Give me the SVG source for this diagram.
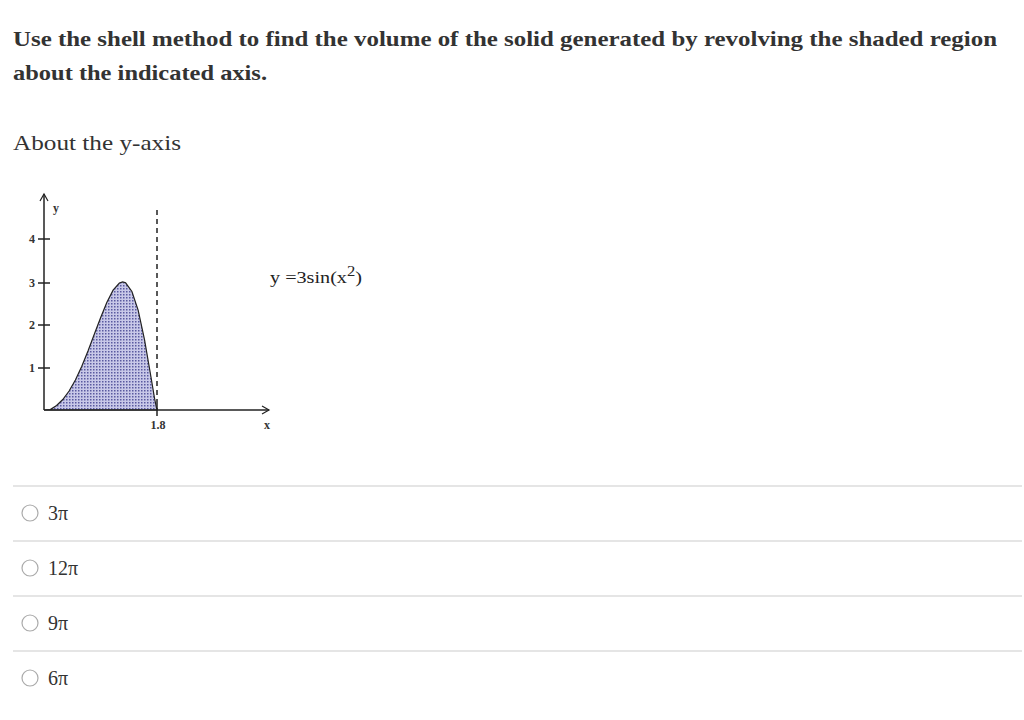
<svg xmlns="http://www.w3.org/2000/svg" width="1024" height="720" viewBox="0 0 1024 720">
<style>
.title{font-family:"Liberation Serif",serif;font-weight:bold;font-size:22px;fill:#333}
.sub{font-family:"Liberation Serif",serif;font-size:21px;fill:#333}
.opt{font-family:"Liberation Serif",serif;font-size:20px;fill:#333}
.tick{font-family:"Liberation Serif",serif;font-weight:bold;font-size:12px;fill:#333}
.eq{font-family:"Liberation Serif",serif;font-size:17px;fill:#222}
.sep{stroke:#dcdcdc;stroke-width:1.5}
.radio{fill:#fff;stroke:#aaa;stroke-width:1.2}
.ax{stroke:#222;stroke-width:1.5;fill:none}
</style>
<defs>
<pattern id="dots" width="3" height="3" patternUnits="userSpaceOnUse">
<rect width="3" height="3" fill="#c8c8e8"/>
<rect width="1.5" height="1.5" fill="#5a5aa0"/>
</pattern>
<marker id="arr" markerWidth="10" markerHeight="10" refX="8" refY="5" orient="auto" markerUnits="userSpaceOnUse">
<path d="M1,1 L8,5 L1,9" fill="none" stroke="#222" stroke-width="1.2"/>
</marker>
</defs>
<rect width="1024" height="720" fill="#fff"/>
<text class="title" x="13" y="46" textLength="984" lengthAdjust="spacingAndGlyphs">Use the shell method to find the volume of the solid generated by revolving the shaded region</text>
<text class="title" x="13" y="80" textLength="254" lengthAdjust="spacingAndGlyphs">about the indicated axis.</text>
<text class="sub" x="13" y="150" textLength="168" lengthAdjust="spacingAndGlyphs">About the y-axis</text>

<g id="graph">
<path d="M44,410 L50.3,409.6 L56.6,405.5 L62.8,399.5 L69.1,391 L75.4,380 L81.7,366.5 L88,351 L94.2,334.5 L100.5,318 L106.8,302.5 L113.1,290.2 L119.4,283 L122.7,281.9 L125.6,282.8 L131.9,291.5 L138.2,310.3 L144.5,339.7 L150.8,376 L154.5,398 L156.5,408 L157,410 Z" fill="url(#dots)" stroke="#222" stroke-width="1.2"/>
<line class="ax" x1="44" y1="410" x2="44" y2="194" marker-end="url(#arr)"/>
<line class="ax" x1="44" y1="410" x2="269" y2="410" marker-end="url(#arr)"/>
<line x1="157" y1="210" x2="157" y2="410" stroke="#222" stroke-width="1.5" stroke-dasharray="5,4"/>
<line class="ax" x1="38" y1="239" x2="50" y2="239"/>
<line class="ax" x1="38" y1="283" x2="50" y2="283"/>
<line class="ax" x1="38" y1="325" x2="50" y2="325"/>
<line class="ax" x1="38" y1="368" x2="50" y2="368"/>
<line class="ax" x1="157" y1="404" x2="157" y2="416"/>
<text class="tick" x="32" y="243" text-anchor="middle">4</text>
<text class="tick" x="32" y="287" text-anchor="middle">3</text>
<text class="tick" x="32" y="329" text-anchor="middle">2</text>
<text class="tick" x="32" y="372" text-anchor="middle">1</text>
<text class="tick" x="56" y="212" text-anchor="middle">y</text>
<text class="tick" x="158" y="429" text-anchor="middle">1.8</text>
<text class="tick" x="267" y="429" text-anchor="middle">x</text>
<text class="eq" x="270" y="283" textLength="92" lengthAdjust="spacingAndGlyphs">y =3sin(x<tspan dy="-7" font-size="14">2</tspan><tspan dy="7">)</tspan></text>
</g>

<g id="options">
<line class="sep" x1="13" y1="486" x2="1022" y2="486"/>
<circle class="radio" cx="30" cy="513" r="8"/>
<text class="opt" x="48" y="520">3π</text>
<line class="sep" x1="13" y1="541" x2="1022" y2="541"/>
<circle class="radio" cx="30" cy="568" r="8"/>
<text class="opt" x="48" y="575">12π</text>
<line class="sep" x1="13" y1="596" x2="1022" y2="596"/>
<circle class="radio" cx="30" cy="623" r="8"/>
<text class="opt" x="48" y="630">9π</text>
<line class="sep" x1="13" y1="651" x2="1022" y2="651"/>
<circle class="radio" cx="30" cy="678" r="8"/>
<text class="opt" x="48" y="685">6π</text>
</g>
</svg>
